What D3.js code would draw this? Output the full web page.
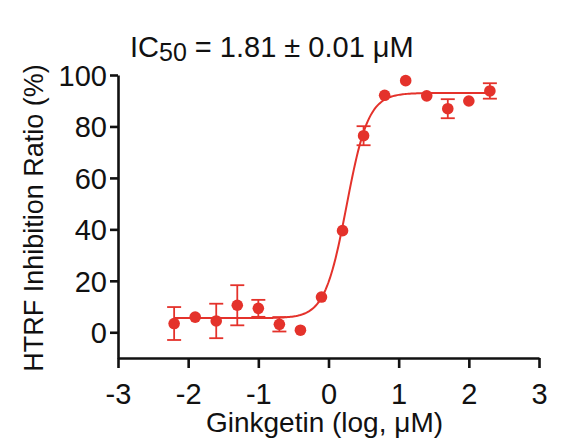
<!DOCTYPE html>
<html lang="en">
<head>
  <meta charset="UTF-8">
  <title>Ginkgetin HTRF dose response</title>
  <script src="https://d3js.org/d3.v7.min.js"></script>
  <style>
    body { margin: 0; background: #fff; }
    svg { display: block; font-family: "Liberation Sans", Arial, sans-serif; }
  </style>
</head>
<body>
  <div id="chart"></div>
  <script>
    // log10 concentration (uM) of each dilution
    const logConc = [-2.2, -1.9, -1.6, -1.3, -1.0, -0.7, -0.4, -0.1, 0.2, 0.5, 0.8, 1.1, 1.4, 1.7, 2.0, 2.3];
    // mean inhibition (%) and its error (SD)
    const inhibition = [3.4, 5.9, 4.4, 10.5, 9.3, 3.1, 0.8, 13.7, 39.5, 76.4, 92.1, 97.8, 91.9, 86.9, 89.9, 93.8];
    const errors = [6.4, 0, 6.7, 7.8, 3.3, 2.8, 0, 0, 0, 3.7, 0, 0, 0, 3.7, 0, 3.0];
    const xTicks = [-3, -2, -1, 0, 1, 2, 3];
    const yTicks = [0, 20, 40, 60, 80, 100];
    // four-parameter logistic fit
    const fitBottom = 5.5, fitTop = 93, fitLogIC50 = 0.258, fitHill = 2.8;

    const width = 568, height = 446;
    const red = "#e4322b";

    const svg = d3.select("#chart").append("svg")
      .attr("width", width).attr("height", height);

    const x = d3.scaleLinear().domain([-3, 3]).range([118, 539]);
    const y = d3.scaleLinear().domain([-10, 100]).range([358, 75]);

    const xAxis = svg.append("g").attr("transform", `translate(0,${y(-10)})`)
      .call(d3.axisBottom(x).tickValues(xTicks).tickSize(10).tickSizeOuter(0).tickPadding(15)
        .tickFormat(d => String(d)));
    const yAxis = svg.append("g").attr("transform", `translate(${x(-3)},0)`)
      .call(d3.axisLeft(y).tickValues(yTicks).tickSize(8).tickSizeOuter(0).tickPadding(3));

    [xAxis, yAxis].forEach(g => {
      g.select(".domain").attr("stroke", "#111").attr("stroke-width", 2.6);
      g.selectAll(".tick line").attr("stroke", "#111").attr("stroke-width", 2.6);
      g.selectAll(".tick text").attr("fill", "#111").style("font-size", "29px")
        .style("font-family", "'Liberation Sans', Arial, sans-serif");
    });
    yAxis.selectAll(".tick text").attr("dy", "0.36em");

    // fitted curve
    const fit = lx => fitBottom + (fitTop - fitBottom) / (1 + Math.pow(10, (fitLogIC50 - lx) * fitHill));
    const curveX = d3.range(logConc[0], logConc[logConc.length - 1] + 0.001, 0.02);
    svg.append("path")
      .datum(curveX)
      .attr("fill", "none").attr("stroke", red).attr("stroke-width", 2)
      .attr("d", d3.line().x(d => x(d)).y(d => y(fit(d))));

    const pts = logConc.map((c, i) => ({ c, v: inhibition[i], e: errors[i] }));

    // error bars
    const eb = svg.append("g").attr("stroke", red).attr("stroke-width", 1.8)
      .selectAll("g").data(pts.filter(d => d.e > 0)).join("g");
    eb.append("line").attr("x1", d => x(d.c)).attr("x2", d => x(d.c))
      .attr("y1", d => y(d.v + d.e)).attr("y2", d => y(d.v - d.e));
    eb.append("line").attr("x1", d => x(d.c) - 7).attr("x2", d => x(d.c) + 7)
      .attr("y1", d => y(d.v + d.e)).attr("y2", d => y(d.v + d.e));
    eb.append("line").attr("x1", d => x(d.c) - 7).attr("x2", d => x(d.c) + 7)
      .attr("y1", d => y(d.v - d.e)).attr("y2", d => y(d.v - d.e));

    svg.append("g").selectAll("circle").data(pts).join("circle")
      .attr("cx", d => x(d.c)).attr("cy", d => y(d.v)).attr("r", 5.8)
      .attr("fill", red);

    // titles
    const title = svg.append("text").attr("x", 130).attr("y", 57)
      .attr("fill", "#111").style("font-size", "29px");
    title.append("tspan").text("IC");
    title.append("tspan").attr("dy", 4).style("font-size", "25px").text("50");
    title.append("tspan").attr("dy", -4).text(" = 1.81 ± 0.01 μM");

    svg.append("text").attr("x", x(0) - 4).attr("y", 432)
      .attr("text-anchor", "middle").attr("fill", "#111").style("font-size", "28px")
      .text("Ginkgetin (log, μM)");

    svg.append("text").attr("transform", "translate(43,218) rotate(-90)")
      .attr("text-anchor", "middle").attr("fill", "#111").style("font-size", "27px")
      .text("HTRF Inhibition Ratio (%)");
  </script>
</body>
</html>
